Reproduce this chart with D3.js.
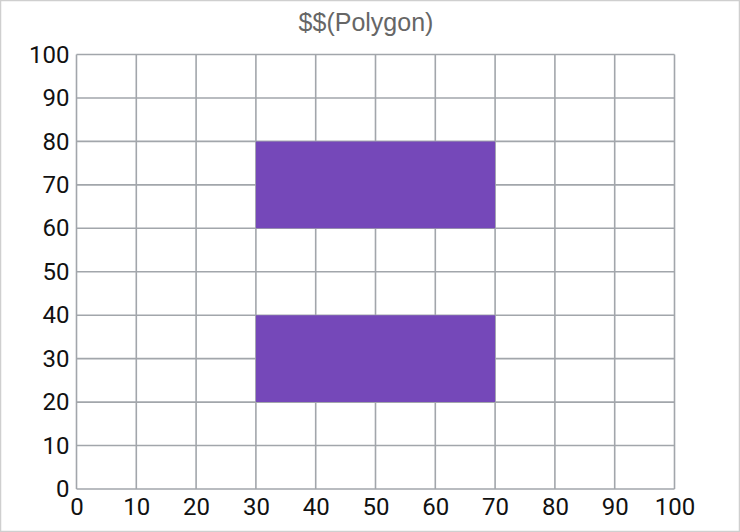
<!DOCTYPE html>
<html>
<head>
<meta charset="utf-8">
<script src="https://cdn.jsdelivr.net/npm/d3@7"></script>
<style>
  body { margin: 0; background: #fff; }
  svg { display: block; font-family: Roboto, sans-serif; }
</style>
</head>
<body>
<div id="chart"></div>
<script>
var W = 740, H = 532,
    m = { t: 54.5, r: 65.5, b: 43, l: 76.5 },
    w = W - m.l - m.r,
    h = H - m.t - m.b;

// data
var title = "$$(Polygon)";
var xTicks = [0, 10, 20, 30, 40, 50, 60, 70, 80, 90, 100],
    yTicks = [0, 10, 20, 30, 40, 50, 60, 70, 80, 90, 100];
var polygons = [
  [[30, 60], [70, 60], [70, 80], [30, 80]],
  [[30, 20], [70, 20], [70, 40], [30, 40]]
];

var svg = d3.select("#chart").append("svg")
    .attr("width", W)
    .attr("height", H);

svg.append("rect")
    .attr("x", 0.5).attr("y", 0.5)
    .attr("width", W - 1).attr("height", H - 1)
    .attr("fill", "#fff")
    .attr("stroke", "#cfcfcf")
    .attr("stroke-width", 1.5);

svg.append("text")
    .attr("x", 366)
    .attr("y", 31)
    .attr("text-anchor", "middle")
    .attr("fill", "#666")
    .style("font-family", "'Liberation Sans', Arial, sans-serif")
    .style("font-size", "25px")
    .text(title);

var g = svg.append("g")
    .attr("transform", "translate(" + m.l + "," + m.t + ")");

var x = d3.scaleLinear().domain([0, 100]).range([0, w]),
    y = d3.scaleLinear().domain([0, 100]).range([h, 0]);

// grid
g.append("g")
    .selectAll("line.vx")
    .data(xTicks)
    .join("line")
      .attr("x1", function(d) { return x(d); })
      .attr("x2", function(d) { return x(d); })
      .attr("y1", 0).attr("y2", h);
g.append("g")
    .selectAll("line.hy")
    .data(yTicks)
    .join("line")
      .attr("y1", function(d) { return y(d); })
      .attr("y2", function(d) { return y(d); })
      .attr("x1", 0).attr("x2", w);
g.selectAll("line")
    .attr("stroke", "#a2a6ab")
    .attr("stroke-width", 1.6);

// polygons
g.selectAll(".poly")
    .data(polygons)
    .join("polygon")
      .attr("class", "poly")
      .attr("points", function(d) {
        return d.map(function(p) { return x(p[0]) + "," + y(p[1]); }).join(" ");
      })
      .attr("fill", "#7548b9");

// axes
var axisX = d3.axisBottom(x).tickValues(xTicks).tickSize(0).tickPadding(9),
    axisY = d3.axisLeft(y).tickValues(yTicks).tickSize(0).tickPadding(7);

g.append("g")
    .attr("transform", "translate(0," + h + ")")
    .call(axisX)
    .call(function(s) { s.select(".domain").remove(); })
  .selectAll("text")
    .attr("fill", "#111")
    .style("font-family", "Roboto, sans-serif")
    .style("font-size", "24px");

g.append("g")
    .call(axisY)
    .call(function(s) { s.select(".domain").remove(); })
  .selectAll("text")
    .attr("fill", "#111")
    .style("font-family", "Roboto, sans-serif")
    .style("font-size", "24px");
</script>
</body>
</html>
